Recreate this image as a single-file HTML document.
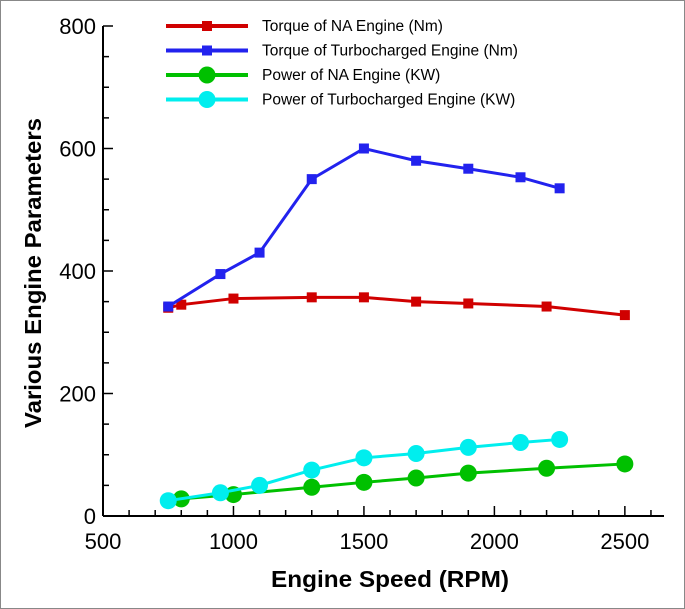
<!DOCTYPE html>
<html><head><meta charset="utf-8"><style>
html,body{margin:0;padding:0;background:#fff}
svg{display:block;font-family:"Liberation Sans",Arial,sans-serif}
</style></head><body>
<svg width="685" height="609" viewBox="0 0 685 609">
<rect x="0.5" y="0.5" width="684" height="608" fill="#fff" stroke="#888"/>
<g id="axes"></g><g id="series"></g><g id="legend"></g>
<text x="390" y="587" text-anchor="middle" font-size="23" font-weight="bold" textLength="238" lengthAdjust="spacingAndGlyphs">Engine Speed (RPM)</text>
<text transform="translate(41,273) rotate(-90)" text-anchor="middle" font-size="23" font-weight="bold" textLength="310" lengthAdjust="spacingAndGlyphs">Various Engine Parameters</text>
</svg>
<script>
const xTicks=[500,1000,1500,2000,2500];
const yTicks=[0,200,400,600,800];
const rpmTorqueNA=[750,800,1000,1300,1500,1700,1900,2200,2500];
const torqueNA=[340,345,355,357,357,350,347,342,328];
const rpmTorqueTurbo=[750,950,1100,1300,1500,1700,1900,2100,2250];
const torqueTurbo=[342,395,430,550,600,580,567,553,535];
const rpmPowerNA=[800,1000,1300,1500,1700,1900,2200,2500];
const powerNA=[28,35,47,55,62,70,78,85];
const rpmPowerTurbo=[750,950,1100,1300,1500,1700,1900,2100,2250];
const powerTurbo=[25,38,50,75,95,102,112,120,125];
const legendLabels=["Torque of NA Engine (Nm)","Torque of Turbocharged Engine (Nm)","Power of NA Engine (KW)","Power of Turbocharged Engine (KW)"];

const NS="http://www.w3.org/2000/svg";
const X0=103,X1=664,XMIN=500,XMAX=2650,Y0=516,Y1=26,YMIN=0,YMAX=800;
const sx=v=>X0+(v-XMIN)/(XMAX-XMIN)*(X1-X0);
const sy=v=>Y0-(v-YMIN)/(YMAX-YMIN)*(Y0-Y1);
function mk(t,a,p){const e=document.createElementNS(NS,t);for(const k in a)e.setAttribute(k,a[k]);p.appendChild(e);return e;}
const axes=document.getElementById('axes');
let l=mk('line',{x1:X0,y1:Y0,x2:X1,y2:Y0,stroke:'#000','stroke-width':2},axes);


l=mk('line',{x1:X0,y1:Y0,x2:X0,y2:Y1,stroke:'#000','stroke-width':2},axes);


for(let v=600;v<=XMAX;v+=100){const maj=v%500===0;mk('line',{x1:sx(v),y1:Y0,x2:sx(v),y2:Y0-(maj?10:6),stroke:'#000','stroke-width':1.5},axes);}
for(let v=50;v<=YMAX;v+=50){const maj=v%200===0;mk('line',{x1:X0,y1:sy(v),x2:X0+(maj?10:6),y2:sy(v),stroke:'#000','stroke-width':1.5},axes);}
xTicks.forEach(v=>{const t=mk('text',{x:sx(v),y:Y0+33,'text-anchor':'middle','font-size':22},axes);t.textContent=v;

});
yTicks.forEach(v=>{const t=mk('text',{x:X0-7,y:sy(v)+8,'text-anchor':'end','font-size':22},axes);t.textContent=v;

});
const ser=document.getElementById('series');
const defs=[[rpmTorqueNA,torqueNA,'#d00000','sq','torque-na'],[rpmTorqueTurbo,torqueTurbo,'#2222ee','sq','torque-turbo'],[rpmPowerNA,powerNA,'#00c000','ci','power-na'],[rpmPowerTurbo,powerTurbo,'#00eeee','ci','power-turbo']];
function marker(g,x,y,c,m){if(m==='sq')return mk('rect',{x:x-5,y:y-5,width:10,height:10,fill:c},g);return mk('circle',{cx:x,cy:y,r:8.5,fill:c},g);}
defs.forEach(([xs,ys,c,m,n])=>{const g=mk('g',{},ser);


const pl=mk('polyline',{points:xs.map((x,i)=>sx(x)+','+sy(ys[i])).join(' '),fill:'none',stroke:c,'stroke-width':3},g);


xs.forEach((x,i)=>{const p=marker(g,sx(x),sy(ys[i]),c,m);

});});
const lg=document.getElementById('legend');
defs.forEach(([xs,ys,c,m,n],i)=>{const y=26+i*24.5;const g=mk('g',{},lg);


mk('line',{x1:166,y1:y,x2:248,y2:y,stroke:c,'stroke-width':4},g);marker(g,207,y,c,m);
const t=mk('text',{x:262,y:y+5,'font-size':15.5},g);t.textContent=legendLabels[i];});
</script>
</body></html>
